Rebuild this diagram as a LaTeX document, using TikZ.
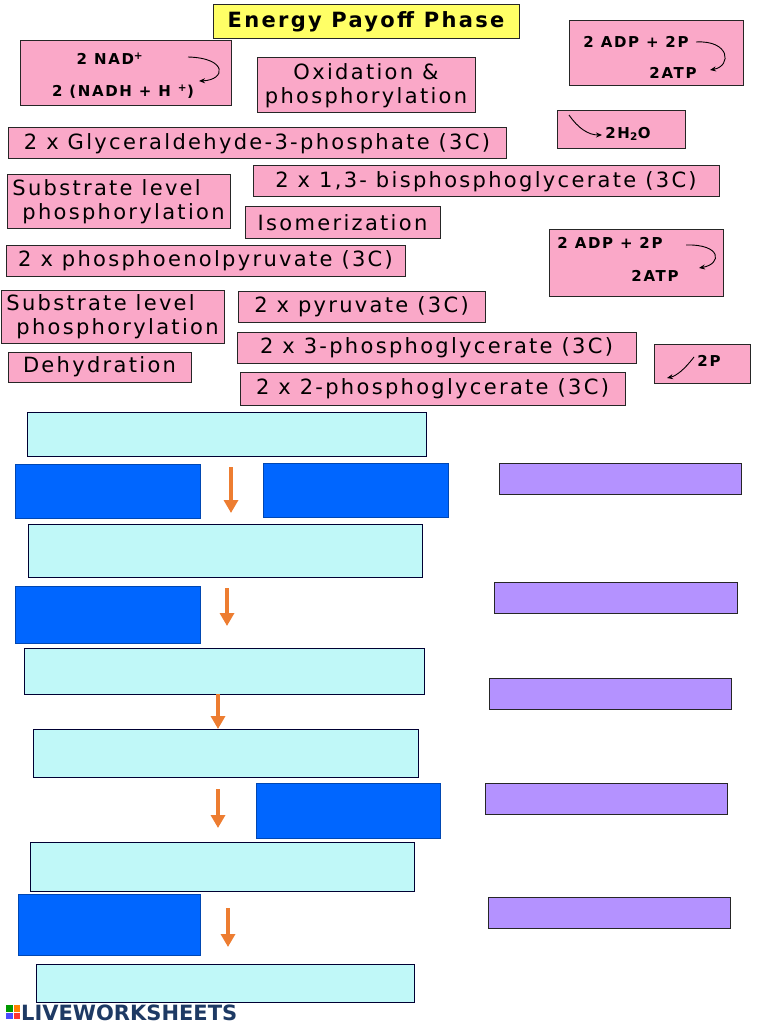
\documentclass[tikz,border=0pt]{standalone}
\usepackage{fontspec}
\setmainfont{DejaVu Sans}[LetterSpace=11]
\newfontfamily\logofont{DejaVu Sans}
\usetikzlibrary{arrows.meta}
\usetikzlibrary{positioning}

\definecolor{boxpink}{RGB}{250,168,200}
\definecolor{boxyellow}{RGB}{255,255,102}
\definecolor{boxcyan}{RGB}{192,248,248}
\definecolor{boxblue}{RGB}{0,102,255}
\definecolor{boxpurple}{RGB}{180,146,255}
\definecolor{arroworange}{RGB}{237,125,49}
\definecolor{logoblue}{RGB}{30,58,100}

\begin{document}
\begin{tikzpicture}[x=1pt,y=-1pt,>=Stealth,
    pinkbox/.style={draw=black!85, fill=boxpink, line width=1pt, inner sep=0pt,
      font=\fontsize{21}{24}\selectfont},
    titlebox/.style={draw=black!85, fill=boxyellow, line width=1pt, inner sep=0pt,
      font=\bfseries\fontsize{21}{24}\selectfont},
    note/.style={inner sep=0pt, font=\bfseries\fontsize{15}{17}\selectfont},
    cyanbox/.style={draw=black!80!blue, fill=boxcyan, line width=1pt, inner sep=0pt},
    bluebox/.style={draw=boxblue!70!black, fill=boxblue, line width=1pt, inner sep=0pt},
    purplebox/.style={draw=black!85, fill=boxpurple, line width=1pt, inner sep=0pt},
    downarrow/.style={draw=arroworange, line width=4.5pt, -{Triangle[width=14pt,length=13pt]}},
    bendarrow/.style={line width=0.9pt, -{Stealth[length=6pt,width=5pt]}}]
  \useasboundingbox (0,0) rectangle (768,1024);

  % top half: labels
  \node[titlebox, minimum width=306pt, minimum height=34pt] (title) at (366,22) {Energy Payoff Phase};

  \node[pinkbox, minimum width=211pt, minimum height=65pt] (nad) at (125.5,73.5) {};
  \node[note] (nadin) at (110,59) {2 NAD\textsuperscript{+}};
  \node[note] (nadout) at (123,92) {2 (NADH + H \textsuperscript{+})};
  \coordinate (nadA) at (188,57);
  \coordinate (nadB) at (199,81);
  \draw[bendarrow] (nadA) .. controls (228,58) and (226,80) .. (nadB);

  \node[pinkbox, minimum width=218pt, minimum height=55pt, align=center] (oxphos) at (366,85.5)
    {Oxidation \&\\phosphorylation};

  \node[pinkbox, minimum width=174pt, minimum height=65pt] (adpA) at (656,53.5) {};
  \node[note] (adpAin) at (636,42) {2 ADP + 2P};
  \node[note] (adpAout) at (673,73) {2ATP};
  \coordinate (adpAa) at (696,42);
  \coordinate (adpAb) at (710,70);
  \draw[bendarrow] (adpAa) .. controls (730,40) and (732,66) .. (adpAb);

  \node[pinkbox, minimum width=128pt, minimum height=38pt] (water) at (621,130) {};
  \node[note] (waterout) at (628,134) {2H\textsubscript{2}O};
  \coordinate (waterA) at (569,115);
  \coordinate (waterB) at (602,135);
  \draw[bendarrow] (waterA) .. controls (578,128) and (588,135) .. (waterB);

  \node[pinkbox, minimum width=498pt, minimum height=31pt] (g3p) at (257,143.5)
    {2 x Glyceraldehyde-3-phosphate (3C)};

  \node[pinkbox, minimum width=223pt, minimum height=54pt, align=left] (slpA) at (118.5,202)
    {Substrate level\\\hspace*{10pt}phosphorylation};
  \node[pinkbox, minimum width=466pt, minimum height=31pt] (bpg) at (486,181.5)
    {2 x 1,3- bisphosphoglycerate (3C)};
  \node[pinkbox, minimum width=195pt, minimum height=31pt] (isom) at (342.5,222.5) {Isomerization};

  \node[pinkbox, minimum width=174pt, minimum height=66pt] (adpB) at (636,263) {};
  \node[note] (adpBin) at (610,243) {2 ADP + 2P};
  \node[note] (adpBout) at (655,276) {2ATP};
  \coordinate (adpBa) at (686,245);
  \coordinate (adpBb) at (699,268);
  \draw[bendarrow] (adpBa) .. controls (722,244) and (722,264) .. (adpBb);

  \node[pinkbox, minimum width=399pt, minimum height=31pt] (pep) at (205.5,260.5)
    {2 x phosphoenolpyruvate (3C)};
  \node[pinkbox, minimum width=223pt, minimum height=53pt, align=left] (slpB) at (112.5,316.5)
    {Substrate level\\\hspace*{10pt}phosphorylation};
  \node[pinkbox, minimum width=247pt, minimum height=31pt] (pyr) at (361.5,306.5) {2 x pyruvate (3C)};
  \node[pinkbox, minimum width=399pt, minimum height=31pt] (pgaA) at (436.5,347.5)
    {2 x 3-phosphoglycerate (3C)};
  \node[pinkbox, minimum width=183pt, minimum height=30pt] (dehyd) at (99.5,367) {Dehydration};
  \node[pinkbox, minimum width=385pt, minimum height=33pt] (pgaB) at (432.5,388.5)
    {2 x 2-phosphoglycerate (3C)};

  \node[pinkbox, minimum width=96pt, minimum height=39pt] (phos) at (702,363.5) {};
  \node[note] (phosin) at (709,361) {2P};
  \coordinate (phosA) at (694,357);
  \coordinate (phosB) at (667,378);
  \draw[bendarrow] (phosA) .. controls (684,370) and (676,376) .. (phosB);

  % bottom half: empty answer boxes
  \node[cyanbox, minimum width=399pt, minimum height=44pt] (stepA) at (226.5,434) {};
  \node[bluebox, minimum width=185pt, minimum height=54pt] (enzA) at (107.5,491) {};
  \node[bluebox, minimum width=185pt, minimum height=54pt] (enzB) at (355.5,490) {};
  \node[purplebox, minimum width=242pt, minimum height=31pt] (sideA) at (620,478.5) {};
  \node[cyanbox, minimum width=394pt, minimum height=53pt] (stepB) at (225,550.5) {};
  \node[bluebox, minimum width=185pt, minimum height=57pt] (enzC) at (107.5,614.5) {};
  \node[purplebox, minimum width=243pt, minimum height=31pt] (sideB) at (615.5,597.5) {};
  \node[cyanbox, minimum width=400pt, minimum height=46pt] (stepC) at (224,671) {};
  \node[purplebox, minimum width=242pt, minimum height=31pt] (sideC) at (610,693.5) {};
  \node[cyanbox, minimum width=385pt, minimum height=48pt] (stepD) at (225.5,753) {};
  \node[bluebox, minimum width=184pt, minimum height=55pt] (enzD) at (348,810.5) {};
  \node[purplebox, minimum width=242pt, minimum height=31pt] (sideD) at (606,798.5) {};
  \node[cyanbox, minimum width=384pt, minimum height=49pt] (stepE) at (222,866.5) {};
  \node[bluebox, minimum width=182pt, minimum height=61pt] (enzE) at (109,924.5) {};
  \node[purplebox, minimum width=242pt, minimum height=31pt] (sideE) at (609,912.5) {};
  \node[cyanbox, minimum width=378pt, minimum height=38pt] (stepF) at (225,983) {};

  \coordinate (arrA1) at (231,467);
  \coordinate (arrA2) at (231,513);
  \coordinate (arrB1) at (227,588);
  \coordinate (arrB2) at (227,626);
  \coordinate (arrC1) at (218,694);
  \coordinate (arrC2) at (218,729);
  \coordinate (arrD1) at (218,789);
  \coordinate (arrD2) at (218,828);
  \coordinate (arrE1) at (228,908);
  \coordinate (arrE2) at (228,947);
  \draw[downarrow] (arrA1) -- (arrA2);
  \draw[downarrow] (arrB1) -- (arrB2);
  \draw[downarrow] (arrC1) -- (arrC2);
  \draw[downarrow] (arrD1) -- (arrD2);
  \draw[downarrow] (arrE1) -- (arrE2);

  % logo
  \fill[green!60!black] (6,1005) rectangle (12.5,1011.5);
  \fill[orange] (13.5,1005) rectangle (20,1011.5);
  \fill[blue!70] (6,1012.5) rectangle (12.5,1019);
  \fill[red!80] (13.5,1012.5) rectangle (20,1019);
  \node[anchor=west, inner sep=0pt, text=logoblue, font=\logofont\bfseries\fontsize{21}{22}\selectfont]
    (logo) at (21,1012.5) {LIVEWORKSHEETS};
\end{tikzpicture}
\end{document}
